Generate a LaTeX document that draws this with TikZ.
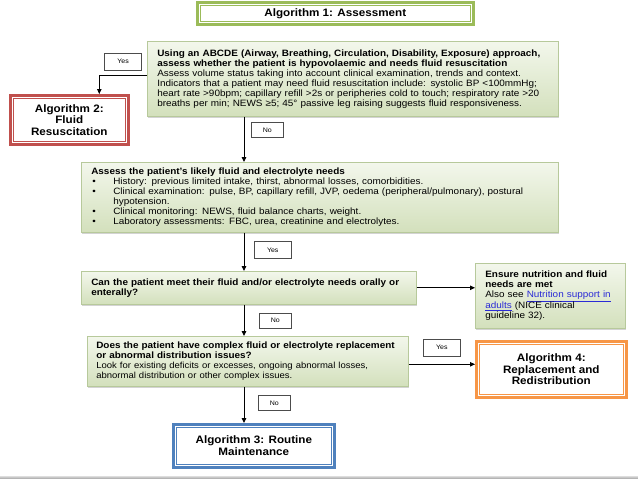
\documentclass[tikz,border=0pt]{standalone}
\usepackage{fontspec}
\setmainfont{Liberation Sans}[FakeStretch=1.08]
\usetikzlibrary{arrows.meta,shadows}

\definecolor{algGreen}{HTML}{9BBB59}
\definecolor{algRed}{HTML}{C0504D}
\definecolor{algOrange}{HTML}{F79646}
\definecolor{algBlue}{HTML}{4F81BD}
\definecolor{boxEdge}{HTML}{B7C99B}
\definecolor{boxTop}{HTML}{F3F7EC}
\definecolor{boxBottom}{HTML}{D3E0BC}
\definecolor{linkBlue}{HTML}{2B2BD6}

\def\spinex{244}
\newcommand{\itemdot}{\makebox[22pt][l]{\hspace*{1pt}\textbullet}}
\newcommand{\linktext}[1]{\textcolor{linkBlue}{\underline{#1}}}

\begin{document}
\begin{tikzpicture}[x=1pt,y=-1pt,
    qbox/.style={draw=boxEdge,line width=0.6pt,top color=boxTop,bottom color=boxBottom,
      drop shadow={shadow xshift=1pt,shadow yshift=-1.5pt,opacity=0.35},
      anchor=north west,align=left,inner xsep=10pt,inner ysep=0pt,
      font=\fontsize{9.2}{10}\selectfont},
    algbox/.style={draw=#1,line width=2.6pt,fill=white,anchor=north west,align=center,
      inner sep=0pt,font=\bfseries\fontsize{10.8}{11.5}\selectfont,
      path picture={\draw[#1,line width=0.9pt]
        ([shift={(3.2pt,-3.2pt)}]path picture bounding box.north west) rectangle
        ([shift={(-3.2pt,3.2pt)}]path picture bounding box.south east);}},
    lbl/.style={draw=black!70,line width=0.5pt,fill=white,inner sep=0pt,
      font=\fontsize{6.5}{7}\selectfont},
    yeslbl/.style={lbl,minimum width=37pt,minimum height=17pt},
    nolbl/.style={lbl,minimum width=32pt,minimum height=15pt},
    >={Triangle[length=5pt,width=4.5pt]}]
    \useasboundingbox (0,0) rectangle (638,479);

    \node[algbox=algGreen,minimum width=276pt,minimum height=22pt] (alg1) at (196,1) {Algorithm 1: Assessment};
    \node[qbox,minimum width=411pt,minimum height=75pt,text width=391pt] (assess) at (147,41) {%
      \textbf{Using an ABCDE (Airway, Breathing, Circulation, Disability, Exposure) approach,}\\
      \textbf{assess whether the patient is hypovolaemic and needs fluid resuscitation}\\
      Assess volume status taking into account clinical examination, trends and context.\\
      Indicators that a patient may need fluid resuscitation include: systolic BP <100mmHg;\\
      heart rate >90bpm; capillary refill >2s or peripheries cold to touch; respiratory rate >20\\
      breaths per min; NEWS ≥5; 45° passive leg raising suggests fluid responsiveness.};
    \node[algbox=algRed,minimum width=118pt,minimum height=49pt] (alg2) at (9,94) {Algorithm 2:\\Fluid\\Resuscitation};
    \node[qbox,minimum width=477pt,minimum height=70pt,text width=457pt] (needs) at (81,162) {%
      \textbf{Assess the patient's likely fluid and electrolyte needs}\\
      \itemdot History: previous limited intake, thirst, abnormal losses, comorbidities.\\
      \itemdot Clinical examination: pulse, BP, capillary refill, JVP, oedema (peripheral/pulmonary), postural\\
      \hspace*{22pt}hypotension.\\
      \itemdot Clinical monitoring: NEWS, fluid balance charts, weight.\\
      \itemdot Laboratory assessments: FBC, urea, creatinine and electrolytes.};
    \node[qbox,minimum width=335pt,minimum height=33pt,text width=315pt] (oral) at (81,271) {%
      \textbf{Can the patient meet their fluid and/or electrolyte needs orally or}\\
      \textbf{enterally?}};
    \node[qbox,minimum width=150pt,minimum height=65pt,text width=130pt] (nutri) at (475,263) {%
      \textbf{Ensure nutrition and fluid}\\
      \textbf{needs are met}\\
      Also see \linktext{Nutrition support in}\\
      \linktext{adults} (NICE clinical\\
      guideline 32).};
    \node[qbox,minimum width=321pt,minimum height=50pt,text width=303pt,inner xsep=9pt] (complex) at (87,336) {%
      \textbf{Does the patient have complex fluid or electrolyte replacement}\\
      \textbf{or abnormal distribution issues?}\\
      {\fontsize{8.8}{9.5}\selectfont Look for existing deficits or excesses, ongoing abnormal losses,}\\
      {\fontsize{8.8}{9.5}\selectfont abnormal distribution or other complex issues.}};
    \node[algbox=algOrange,minimum width=150pt,minimum height=56pt] (alg4) at (475,340) {Algorithm 4:\\Replacement and\\Redistribution};
    \node[algbox=algBlue,minimum width=161pt,minimum height=43pt] (alg3) at (172,423) {Algorithm 3: Routine\\Maintenance};

    \coordinate (spine) at (\spinex,0);
    \path[->,draw,line width=0.9pt] ([yshift=3.5pt]assess.west) -| node[yeslbl,pos=0.25,above=5pt] {Yes} ([xshift=30pt]alg2.north);
    \path[->,draw,line width=0.9pt] (assess.south -| spine) -- node[nolbl,pos=0.3,right=7pt] {No} (needs.north -| spine);
    \path[->,draw,line width=0.9pt] (needs.south -| spine) -- node[yeslbl,pos=0.45,right=10pt] {Yes} (oral.north -| spine);
    \path[->,draw,line width=0.9pt] (oral.east) -- (oral.east -| nutri.west);
    \path[->,draw,line width=0.9pt] (oral.south -| spine) -- node[nolbl,pos=0.5,right=15pt] {No} (complex.north -| spine);
    \path[->,draw,line width=0.9pt] ([yshift=-3pt]complex.east) -- node[yeslbl,above=8pt] {Yes} ([yshift=-3pt]complex.east -| alg4.west);
    \path[->,draw,line width=0.9pt] (complex.south -| spine) -- node[nolbl,pos=0.45,right=14pt] {No} (alg3.north -| spine);

    \shade[top color=gray!35,bottom color=gray!75] (0,476.5) rectangle (638,479);
  \end{tikzpicture}
\end{document}
